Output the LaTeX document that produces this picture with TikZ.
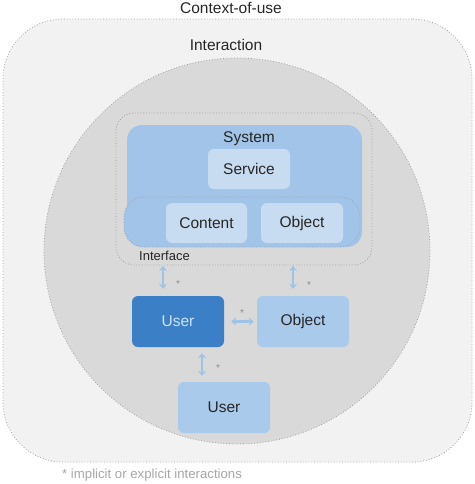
\documentclass[tikz,border=0pt]{standalone}
\usepackage{fontspec}
\setmainfont{Liberation Sans}
\usetikzlibrary{arrows.meta}
\definecolor{outerfill}{HTML}{F2F2F2}
\definecolor{circfill}{HTML}{D9D9D9}
\definecolor{dotline}{HTML}{A0A0A0}
\definecolor{sysfill}{HTML}{A2C4E8}
\definecolor{lightbox}{HTML}{C8DCF1}
\definecolor{midbox}{HTML}{A9CAEB}
\definecolor{darkbox}{HTML}{3B7FC6}
\definecolor{usertxt}{HTML}{CFE2F7}
\definecolor{labtxt}{HTML}{262626}
\definecolor{arrowc}{HTML}{9DC3E6}
\definecolor{notetxt}{HTML}{A6A6A6}
\definecolor{startxt}{HTML}{8A8A8A}
\tikzset{
  dotborder/.style={draw=dotline, dotted, line width=0.8pt},
  lbl/.style={font=\fontsize{15.5}{16}\selectfont, text=labtxt, inner sep=0pt},
  boxnode/.style={lbl, rounded corners=6pt, draw=none, inner sep=0pt},
  biarrow/.style={draw=arrowc, line width=2.5pt, {Stealth[length=5pt,width=8pt]}-{Stealth[length=5pt,width=8pt]}},
  star/.style={font=\fontsize{10}{10}\selectfont, text=startxt, inner sep=0pt}
}
\begin{document}
\begin{tikzpicture}[x=1pt,y=-1pt]
\useasboundingbox (0,0) rectangle (474,484);
% outer context
\node[dotborder, fill=outerfill, rounded corners=60pt, minimum width=469pt, minimum height=443pt, inner sep=0pt] (ctx) at (237.5,240.5) {};
\node[lbl] (ctxlbl) at (231,8) {Context-of-use};
% interaction circle
\node[dotborder, fill=circfill, circle, minimum size=386pt, inner sep=0pt] (inter) at (237,251) {};
\node[lbl] (interlbl) at (226,45) {Interaction};
% interface box
\node[dotborder, fill=circfill, rounded corners=18pt, minimum width=256pt, minimum height=152pt, inner sep=0pt] (iface) at (244,189) {};
\node[font=\fontsize{13}{13}\selectfont, text=labtxt, inner sep=0pt, anchor=west] (ifacelbl) at (139,256) {Interface};
% system
\node[fill=sysfill, rounded corners=15pt, minimum width=235pt, minimum height=122pt, inner sep=0pt] (sys) at (244.5,186) {};
\node[lbl] (syslbl) at (249,139) {System};
\node[boxnode, fill=lightbox, minimum width=82pt, minimum height=40pt] (service) at (249,169) {Service};
% inner interface
\node[dotborder, fill=sysfill, rounded corners=20pt, minimum width=236pt, minimum height=50pt, inner sep=0pt] (inner) at (242,222) {};
\node[boxnode, fill=lightbox, minimum width=81pt, minimum height=40pt] (content) at (206.5,223) {Content};
\node[boxnode, fill=lightbox, minimum width=82pt, minimum height=40pt] (obj1) at (302,223) {Object};
% lower boxes
\node[boxnode, fill=darkbox, text=usertxt, minimum width=92pt, minimum height=51pt] (user) at (178,321.5) {User};
\node[boxnode, fill=midbox, minimum width=92pt, minimum height=51pt] (obj2) at (303,321.5) {Object};
\node[boxnode, fill=midbox, minimum width=92pt, minimum height=51pt] (user2) at (224,407.5) {User};
% arrows
\draw[biarrow, shorten <=7pt, shorten >=0.5pt] ([xshift=-15pt]user.north) -- ([xshift=-15pt]user.north |- iface.south);
\draw[biarrow, shorten <=7pt, shorten >=0.5pt] ([xshift=-10pt]obj2.north) -- ([xshift=-10pt]obj2.north |- iface.south);
\draw[biarrow, shorten <=7pt, shorten >=3pt] (user.east) -- (obj2.west);
\draw[biarrow, shorten <=6pt, shorten >=6pt] ([xshift=-22pt]user2.north) -- ([xshift=-22pt]user2.north |- user.south);
% asterisks
\node[star] (s1) at (178,284) {*};
\node[star] (s2) at (309,285) {*};
\node[star] (s3) at (242,313) {*};
\node[star] (s4) at (218,368) {*};
% footnote
\node[font=\fontsize{13.2}{14}\selectfont, text=notetxt, inner sep=0pt, anchor=west] (note) at (62,475) {* implicit or explicit interactions};
\end{tikzpicture}
\end{document}
